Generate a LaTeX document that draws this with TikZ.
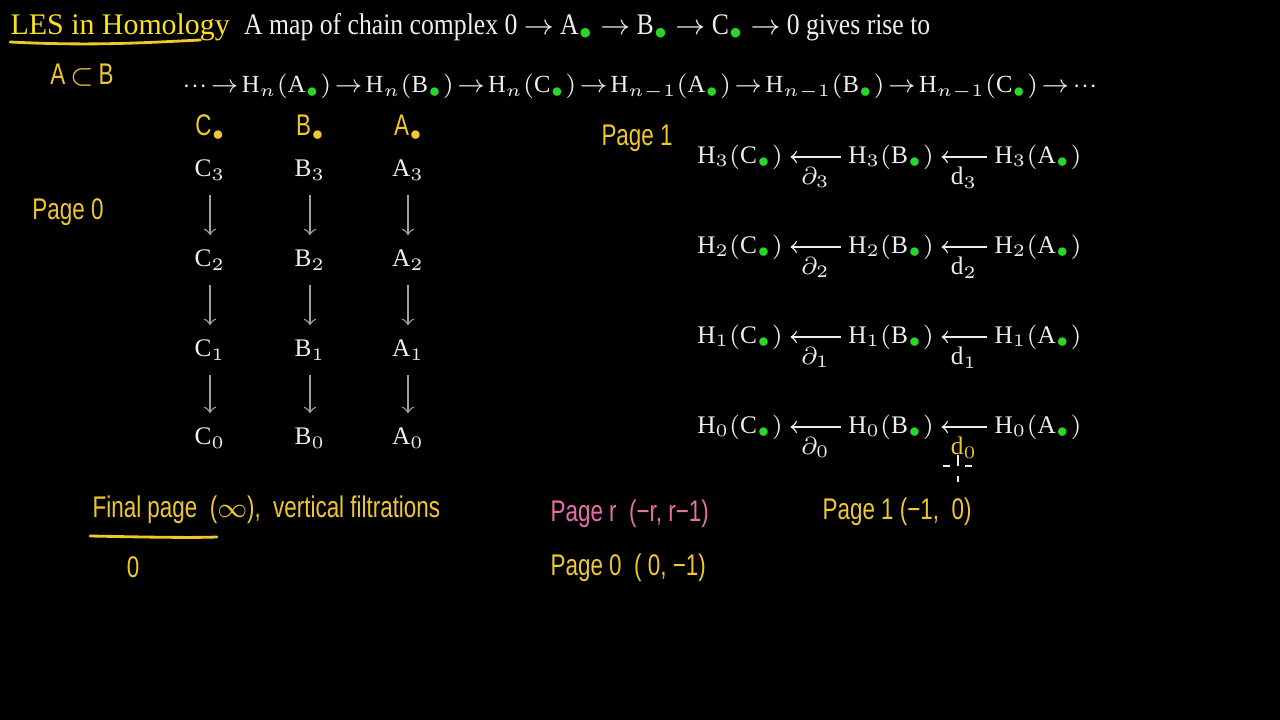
\documentclass[tikz,border=0pt]{standalone}
\usepackage{fontspec}
\setmainfont{Liberation Serif}
\newfontfamily\headfont[FakeStretch=0.86]{Liberation Serif}
\newfontfamily\handfont[FakeStretch=0.75]{Liberation Sans}
\usepackage{amssymb}
\usetikzlibrary{positioning}

\definecolor{board}{RGB}{0,0,0}
\definecolor{chalk}{RGB}{238,238,238}
\definecolor{penyellow}{RGB}{240,200,45}
\definecolor{titleyellow}{RGB}{250,225,30}
\definecolor{penpink}{RGB}{232,110,170}
\definecolor{dotgreen}{RGB}{40,215,40}

\newcommand{\greendot}{\textcolor{dotgreen}{\bullet}}
\newcommand{\homol}[2]{\mathrm{H}_{#1}(\mathrm{#2}_{\greendot})}
\newcommand{\penDot}{\raisebox{-0.25ex}{\fontsize{3.8}{4}\selectfont$\bullet$}}
\newcommand{\tightdots}{\mathinner{\cdotp\mkern-3mu\cdotp\mkern-3mu\cdotp}}

\begin{document}
\begin{tikzpicture}[
    term/.style={text=chalk, font=\fontsize{7.2}{9}\selectfont, inner sep=1pt},
    hand/.style={text=penyellow, font=\handfont\fontsize{8.5}{10}\selectfont, inner sep=0pt},
    down/.style={->, gray!75, thin, shorten >=3pt, shorten <=3pt},
    back/.style={<-, chalk, thin, shorten >=1pt, shorten <=1pt}
  ]
    \fill[board] (0, 0) rectangle (12.8, -7.2);
    \useasboundingbox (0, 0) rectangle (12.8, -7.2);

    % heading
    \node (title) [anchor = base west, text = titleyellow, inner sep = 0pt,
      font = \fontsize{8.5}{10}\selectfont] at (0.10, -0.35) {LES in Homology};
    \node (intro) [anchor = base west, text = chalk, inner sep = 0pt,
      font = \headfont\fontsize{8.5}{10}\selectfont] at ([xshift = 1.3mm] title.base east)
      {A map of chain complex 0 $\to$ A$_{\greendot}$ $\to$ B$_{\greendot}$ $\to$ C$_{\greendot}$ $\to$ 0 gives rise to};
    \draw [penyellow, thick, line cap = round] ([yshift = -0.7mm] title.base west)
      .. controls +(0.8, -0.04) and +(-0.6, -0.03) .. ([xshift = -3mm, yshift = -0.5mm] title.base east);

    \node (les) [term, font = \fontsize{7}{9}\selectfont] at (6.40, -0.87)
      {\thickmuskip=2mu$\tightdots \to \homol{n}{A} \to \homol{n}{B} \to \homol{n}{C} \to \homol{n-1}{A} \to \homol{n-1}{B} \to \homol{n-1}{C} \to \tightdots$};

    \node (incl) [hand] at (0.82, -0.75) {A\,$\subset$\,B};

    % page 0 columns
    \node (colC) [hand] at (2.10, -1.27) {C\penDot};
    \node (colB) [hand] at (3.10, -1.27) {B\penDot};
    \node (colA) [hand] at (4.08, -1.27) {A\penDot};
    \node (page0) [hand] at (0.68, -2.12) {Page 0};

    \node (c3) [term] at (2.10, -1.70) {$\mathrm{C}_3$};
    \node (b3) [term] at (3.10, -1.70) {$\mathrm{B}_3$};
    \node (a3) [term] at (4.08, -1.70) {$\mathrm{A}_3$};
    \node (c2) [term] at (2.10, -2.60) {$\mathrm{C}_2$};
    \node (b2) [term] at (3.10, -2.60) {$\mathrm{B}_2$};
    \node (a2) [term] at (4.08, -2.60) {$\mathrm{A}_2$};
    \node (c1) [term] at (2.10, -3.50) {$\mathrm{C}_1$};
    \node (b1) [term] at (3.10, -3.50) {$\mathrm{B}_1$};
    \node (a1) [term] at (4.08, -3.50) {$\mathrm{A}_1$};
    \node (c0) [term] at (2.10, -4.38) {$\mathrm{C}_0$};
    \node (b0) [term] at (3.10, -4.38) {$\mathrm{B}_0$};
    \node (a0) [term] at (4.08, -4.38) {$\mathrm{A}_0$};

    \draw [down] (c3) -- (c2);
    \draw [down] (c2) -- (c1);
    \draw [down] (c1) -- (c0);
    \draw [down] (b3) -- (b2);
    \draw [down] (b2) -- (b1);
    \draw [down] (b1) -- (b0);
    \draw [down] (a3) -- (a2);
    \draw [down] (a2) -- (a1);
    \draw [down] (a1) -- (a0);

    % page 1
    \node (page1) [hand] at (6.37, -1.38) {Page 1};

    \node (hc3) [term] at (7.40, -1.57) {$\homol{3}{C}$};
    \node (hb3) [term] at (8.91, -1.57) {$\homol{3}{B}$};
    \node (ha3) [term] at (10.38, -1.57) {$\homol{3}{A}$};
    \node (hc2) [term] at (7.40, -2.47) {$\homol{2}{C}$};
    \node (hb2) [term] at (8.91, -2.47) {$\homol{2}{B}$};
    \node (ha2) [term] at (10.38, -2.47) {$\homol{2}{A}$};
    \node (hc1) [term] at (7.40, -3.37) {$\homol{1}{C}$};
    \node (hb1) [term] at (8.91, -3.37) {$\homol{1}{B}$};
    \node (ha1) [term] at (10.38, -3.37) {$\homol{1}{A}$};
    \node (hc0) [term] at (7.40, -4.27) {$\homol{0}{C}$};
    \node (hb0) [term] at (8.91, -4.27) {$\homol{0}{B}$};
    \node (ha0) [term] at (10.38, -4.27) {$\homol{0}{A}$};

    \draw [back] (hc3) -- node [term, below = 0.6mm] {$\partial_3$} (hb3);
    \draw [back] (hb3) -- node [term, below = 0.6mm] {$\mathrm{d}_3$} (ha3);
    \draw [back] (hc2) -- node [term, below = 0.6mm] {$\partial_2$} (hb2);
    \draw [back] (hb2) -- node [term, below = 0.6mm] {$\mathrm{d}_2$} (ha2);
    \draw [back] (hc1) -- node [term, below = 0.6mm] {$\partial_1$} (hb1);
    \draw [back] (hb1) -- node [term, below = 0.6mm] {$\mathrm{d}_1$} (ha1);
    \draw [back] (hc0) -- node [term, below = 0.6mm] {$\partial_0$} (hb0);
    \draw [back] (hb0) -- node [term, below = 0.6mm, text = penyellow] {$\mathrm{d}_0$} (ha0);

    % pointer
    \draw [chalk, thin] (9.43, -4.66) -- (9.50, -4.66);
    \draw [chalk, thin] (9.65, -4.66) -- (9.72, -4.66);
    \draw [chalk, thin, dashed] (9.58, -4.55) -- (9.58, -4.82);

    % bottom notes
    \node (final) [hand, anchor = west] at (0.92, -5.10) {Final page \ ($\infty$), \ vertical filtrations};
    \draw [penyellow, thick, line cap = round] (0.90, -5.36) .. controls (1.4, -5.37) and (1.9, -5.38) .. (2.17, -5.37);
    \node (zero) [hand] at (1.33, -5.67) {0};

    \node (pager) [hand, anchor = west, text = penpink] at (5.50, -5.14) {Page r \ (−r, r−1)};
    \node (pagezero) [hand, anchor = west] at (5.50, -5.68) {Page 0 \ ( 0, −1)};
    \node (pageone) [hand, anchor = west] at (8.22, -5.12) {Page 1 (−1, \ 0)};
  \end{tikzpicture}
\end{document}
